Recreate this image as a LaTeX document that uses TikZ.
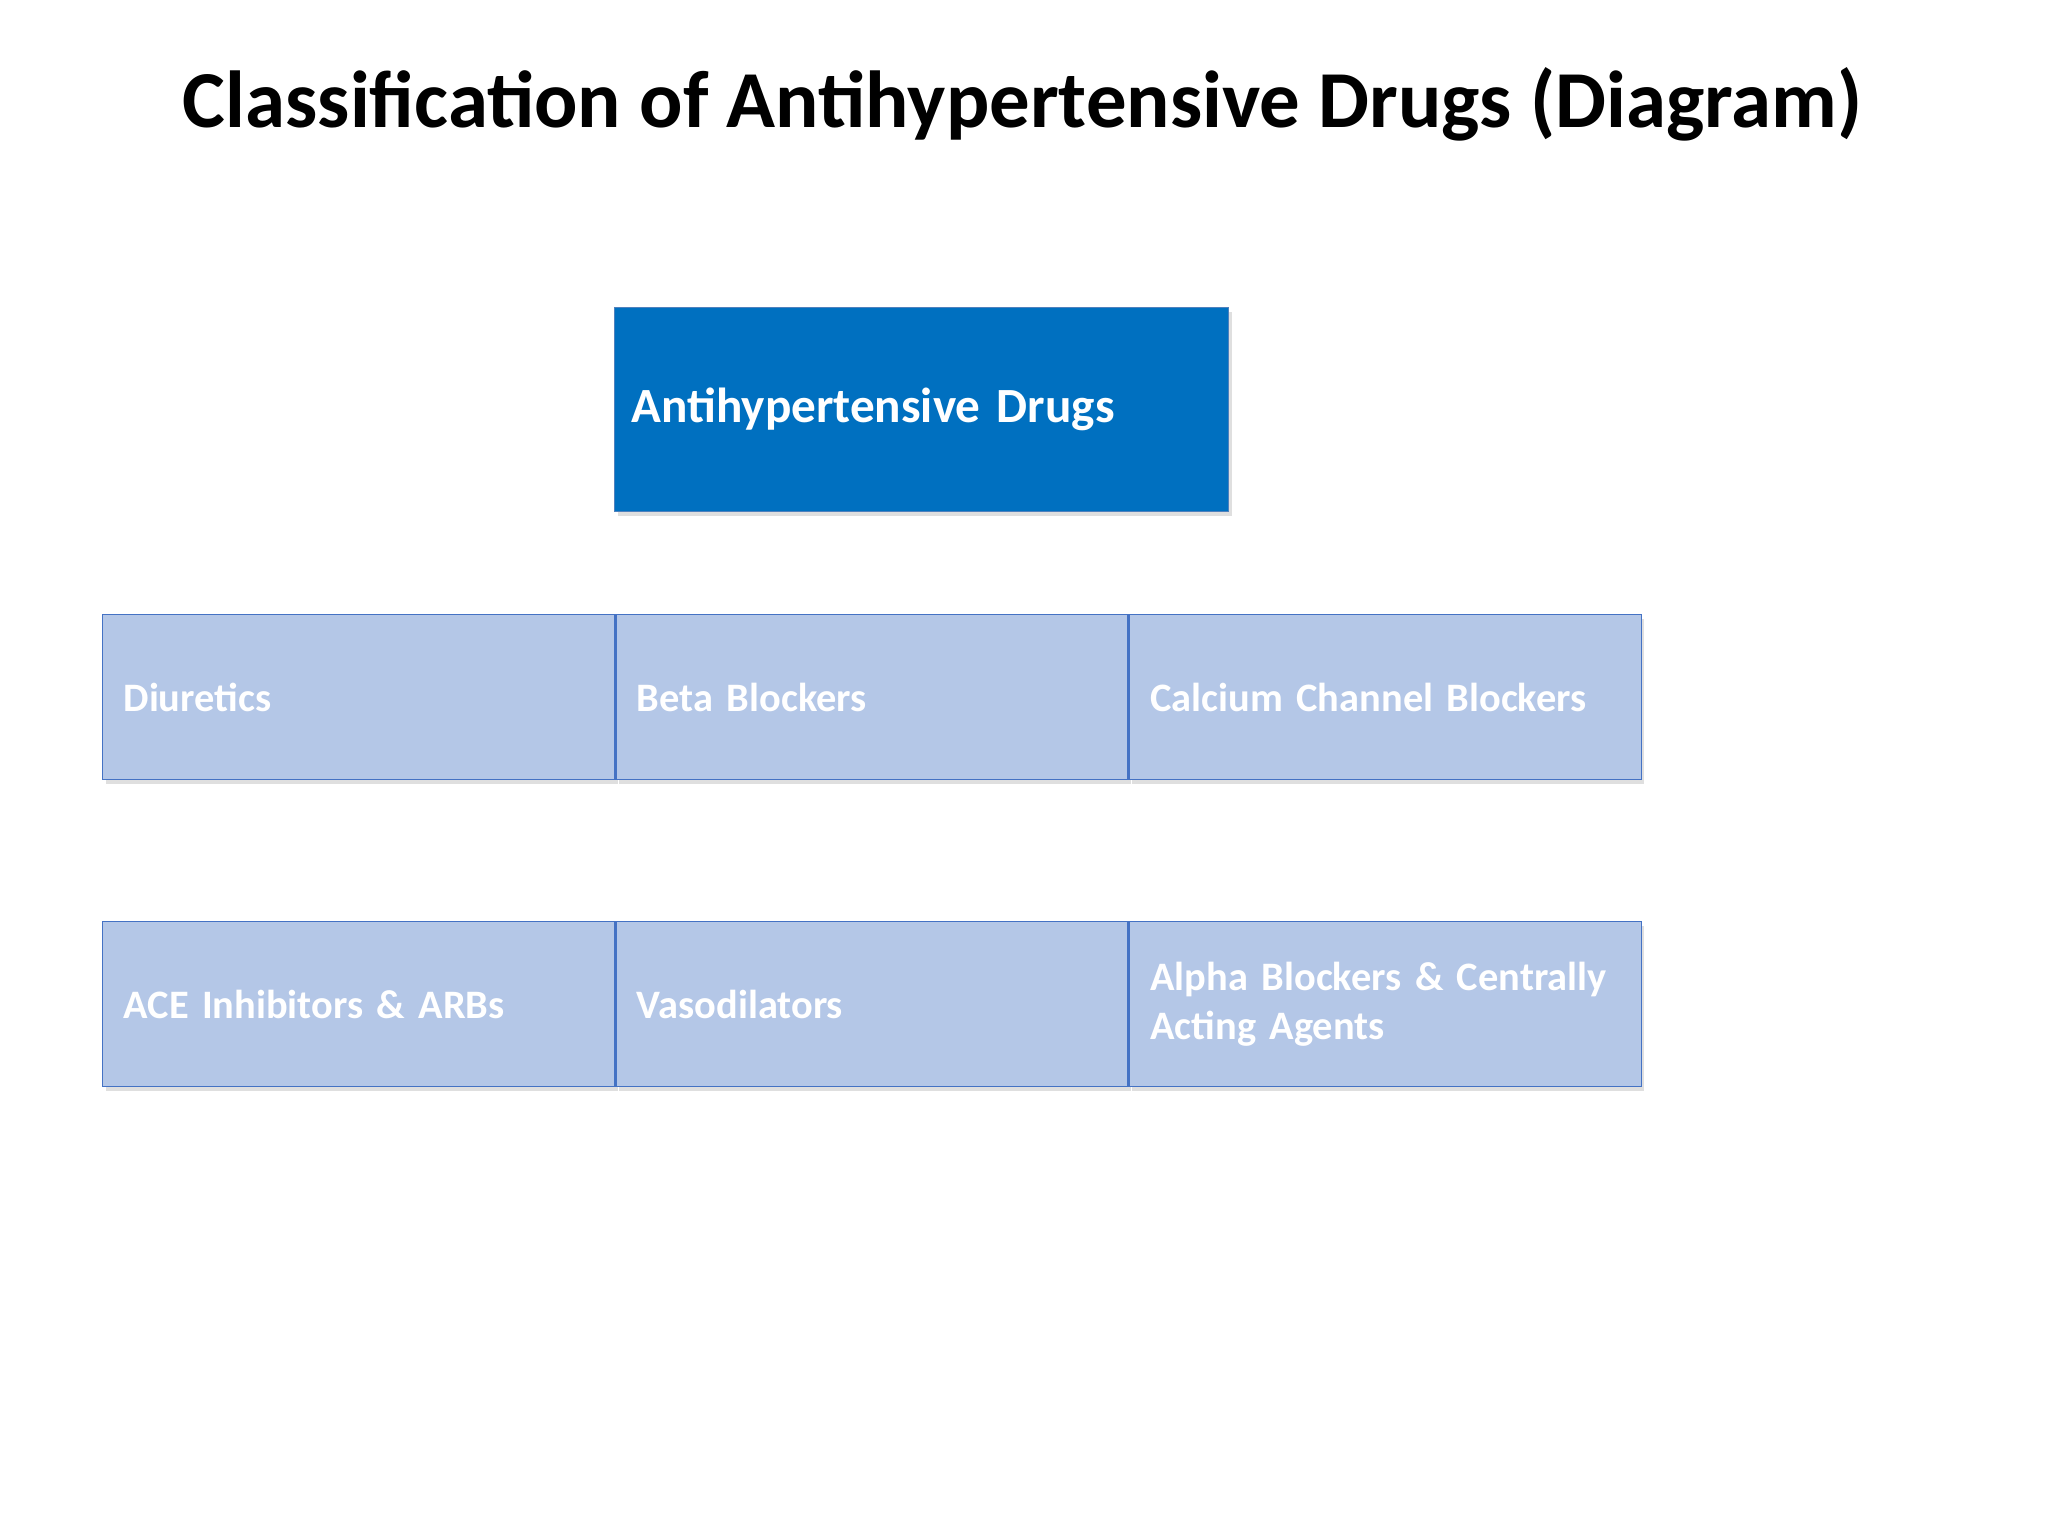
\documentclass[tikz,border=0pt]{standalone}
\usepackage{fontspec}
\setmainfont{Carlito}
\usetikzlibrary{positioning,shadows}
\definecolor{rootblue}{HTML}{0070C0}
\definecolor{rootedge}{HTML}{4F81BD}
\definecolor{catfill}{HTML}{B4C7E7}
\definecolor{catedge}{HTML}{4472C4}
\begin{document}
\begin{tikzpicture}[
            x=0.01306cm,y=-0.01306cm,
            rootbox/.style={rectangle,draw=rootedge,fill=rootblue,minimum width=6.14cm,minimum height=2.04cm,text width=5.8cm,align=left,font=\fontsize{14}{17}\selectfont\bfseries,text=white,drop shadow={opacity=0.25,shadow xshift=0.03cm,shadow yshift=-0.04cm}},
            catbox/.style={rectangle,draw=catedge,fill=catfill,minimum width=5.12cm,minimum height=1.65cm,text width=4.7cm,align=left,font=\fontsize{11.5}{14}\selectfont\bfseries,text=white,drop shadow={opacity=0.25,shadow xshift=0.03cm,shadow yshift=-0.04cm}}
        ]
            \useasboundingbox (0,0) rectangle (1568,1176);
            \node[font=\fontsize{23}{28}\selectfont\bfseries] (title) at (783,80) {Classification of Antihypertensive Drugs (Diagram)};
            \node[rootbox,anchor=north west] (root) at (470,235) {Antihypertensive Drugs};

            \node[catbox,anchor=north west] (diur) at (78,470) {Diuretics};
            \node[catbox,right=0pt of diur] (beta) {Beta Blockers};
            \node[catbox,right=0pt of beta] (ccb) {Calcium Channel Blockers};

            \node[catbox,anchor=north west] (ace) at (78,705) {ACE Inhibitors \& ARBs};
            \node[catbox,right=0pt of ace] (vaso) {Vasodilators};
            \node[catbox,right=0pt of vaso] (alpha) {Alpha Blockers \& Centrally Acting Agents};
        \end{tikzpicture}
\end{document}
